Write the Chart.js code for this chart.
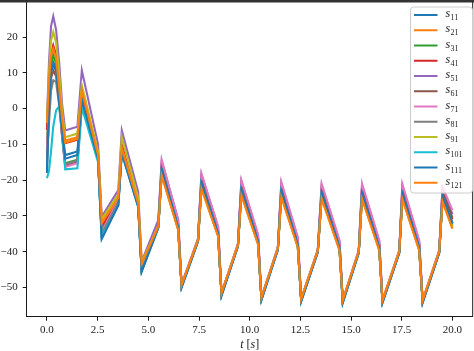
<!DOCTYPE html>
<html>
<head>
<meta charset="utf-8">
<script src="https://cdn.jsdelivr.net/npm/chart.js@4.4.1/dist/chart.umd.min.js"></script>
<style>
    html, body { margin: 0; padding: 0; background: #ffffff; }
    #wrap { width: 474px; height: 351px; }
</style>
</head>
<body>
<div id="wrap"><canvas id="lines" width="474" height="351"></canvas></div>
<script>
// time stamps shared by every series
const T = [0, 0.1, 0.2, 0.31, 0.45, 0.6, 0.75, 0.9, 1.5, 1.72, 2.52, 2.7,
    3.52, 3.69, 4.5, 4.67, 5.49, 5.66, 6.47, 6.64, 7.45, 7.62, 8.44, 8.61,
    9.42, 9.59, 10.41, 10.58, 11.39, 11.56, 12.37, 12.54, 13.36, 13.55, 14.43, 14.59,
    15.38, 15.54, 16.39, 16.55, 17.38, 17.53, 18.36, 18.53, 19.35, 19.51, 20.0];

const S11 = [-18, 1, 11, 13, 11, 3, -6, -13, -12, 3, -13.5, -35.5,
    -26.5, -11.5, -27, -45.3, -33.2, -16.8, -33, -49.8, -37, -20.5, -34.8, -52.1,
    -38.4, -22.3, -37, -53.3, -39.3, -22.8, -37.8, -53.7, -40, -23.3, -38.7, -54.1,
    -40.2, -23.3, -38.7, -54.1, -40.2, -23.4, -38.7, -54.1, -40.2, -24.2, -32];
const S21 = [-5, 7, 15, 17.2, 14.5, 7, -2, -8.9, -8, 5.5, -12.5, -31.5,
    -24.5, -11.7, -26, -43.2, -33, -18.6, -33.9, -49.4, -36.8, -22.3, -35.7, -51.7,
    -38.2, -24.1, -37.9, -52.9, -39.1, -24.6, -38.7, -53.3, -39.8, -25.1, -39.6, -53.7,
    -40, -25.1, -39.6, -53.7, -40, -25.2, -39.6, -53.7, -40, -25.8, -33.5];
const S31 = [-10, 4, 12.5, 14.9, 12.5, 4, -6, -15.3, -14.3, 3, -14, -34,
    -26, -11, -27, -44.8, -33.1, -18, -33.6, -49.5, -36.9, -21.7, -35.4, -51.8,
    -38.3, -23.5, -37.6, -53, -39.2, -24, -38.4, -53.4, -39.9, -24.5, -39.3, -53.8,
    -40.1, -24.5, -39.3, -53.8, -40.1, -24.6, -39.3, -53.8, -40.1, -25.4, -32.8];
const S41 = [-6, 7, 15, 17.7, 15, 7, -3, -9.7, -8.7, 4.5, -13, -33,
    -25.5, -10, -26.5, -44, -32.8, -16.2, -32.4, -49.6, -36.7, -19.9, -34.2, -51.9,
    -38.1, -21.7, -36.4, -53.1, -39, -22.2, -37.2, -53.5, -39.7, -22.7, -38.1, -53.9,
    -39.9, -22.7, -38.1, -53.9, -39.9, -22.8, -38.1, -53.9, -39.9, -23.6, -31];
const S51 = [-3, 13, 23, 25.8, 22, 13, 1, -6.1, -5.1, 10.7, -10, -30.3,
    -22.8, -6.1, -23.3, -42.8, -31.2, -14.6, -31, -49.1, -36.4, -18.4, -33.2, -51.7,
    -37.9, -20.3, -35.4, -52.9, -38.8, -20.9, -36.2, -53.3, -39.5, -21.5, -37.1, -53.7,
    -39.7, -21.5, -37.1, -53.7, -39.7, -21.6, -37.1, -53.7, -39.7, -22.4, -29.5];
const S61 = [-13, 0, 8.5, 10.7, 9, 2, -8, -16, -15, 2, -14, -35,
    -26, -12, -27, -45, -32.9, -15.8, -32.1, -49.5, -36.7, -19.5, -33.9, -51.8,
    -38.1, -21.3, -36.1, -53, -39, -21.8, -36.9, -53.4, -39.7, -22.3, -37.8, -53.8,
    -39.9, -22.3, -37.8, -53.8, -39.9, -22.4, -37.8, -53.8, -39.9, -23.2, -30.5];
const S71 = [-12, 2, 10, 12.1, 10.5, 3, -8, -16.3, -15.3, 2, -14, -34.5,
    -25.5, -11.5, -26, -44.5, -32.6, -14.4, -31.3, -49.3, -36.4, -18.2, -32.9, -51.6,
    -37.8, -20, -35.1, -52.8, -38.7, -20.5, -35.9, -53.2, -39.4, -21, -36.8, -53.6,
    -39.6, -21, -36.8, -53.6, -39.6, -21.1, -36.8, -53.6, -39.6, -21.9, -28.4];
const S81 = [-14, -4, 5, 7.9, 7.5, 1, -8, -15.5, -14.5, 1.5, -14, -35,
    -26.2, -12, -27, -45, -33.1, -17.6, -33.4, -49.6, -36.9, -21.3, -35.2, -51.9,
    -38.3, -23.1, -37.4, -53.1, -39.2, -23.6, -38.2, -53.5, -39.9, -24.1, -39.1, -53.9,
    -40.1, -24.1, -39.1, -53.9, -40.1, -24.2, -39.1, -53.9, -40.1, -25, -32.5];
const S91 = [-4, 10, 19, 21.4, 18.5, 10, -1, -8, -7, 6.5, -12, -31,
    -24, -8, -25, -43, -32.8, -17.9, -33.5, -49.5, -36.8, -21.9, -35.5, -51.8,
    -38.2, -23.7, -37.7, -53, -39.1, -24.2, -38.5, -53.4, -39.8, -24.7, -39.4, -53.8,
    -40, -24.7, -39.4, -53.8, -40, -24.8, -39.4, -53.8, -40, -25.6, -33];
const S101 = [-19.5, -17.5, -12, -5, -0.5, 0.6, -6, -17, -16.7, 0.3, -15, -36,
    -27, -12.5, -27.5, -45.5, -33.2, -17.3, -33.2, -49.9, -37, -21, -35, -52.2,
    -38.4, -22.8, -37.2, -53.4, -39.3, -23.3, -38, -53.8, -40, -23.8, -38.9, -54.2,
    -40.2, -23.8, -38.9, -54.2, -40.2, -23.9, -38.9, -54.2, -40.2, -24.7, -32.2];
const S111 = [-17, 0, 10, 12.5, 10.5, 2, -6, -14, -13, 2.5, -14, -36.5,
    -27, -12.5, -27.5, -45.6, -33.4, -17.1, -33.1, -50.1, -37.2, -20.8, -34.9, -52.4,
    -38.6, -22.6, -37.1, -53.6, -39.5, -23.1, -37.9, -54, -40.2, -23.6, -38.8, -54.4,
    -40.4, -23.6, -38.8, -54.4, -40.4, -23.7, -38.8, -54.4, -40.4, -24.5, -32.2];
const S121 = [-4, 8, 15, 16.8, 14, 6, -3, -9.5, -8.5, 5, -13, -32,
    -25, -11, -26.5, -43.5, -33, -18.7, -33.9, -49.4, -36.8, -22.4, -35.7, -51.7,
    -38.2, -24.2, -37.9, -52.9, -39.1, -24.7, -38.7, -53.3, -39.8, -25.2, -39.6, -53.7,
    -40, -25.2, -39.6, -53.7, -40, -25.3, -39.6, -53.7, -40, -26, -33.6];

const SERIES = [S11, S21, S31, S41, S51, S61, S71, S81, S91, S101, S111, S121];
const SUBS = ['11', '21', '31', '41', '51', '61', '71', '81', '91', '101', '111', '121'];
const COLORS = ['#1f77b4', '#ff7f0e', '#2ca02c', '#d62728', '#9467bd', '#8c564b',
    '#e377c2', '#7f7f7f', '#bcbd22', '#17becf', '#1f77b4', '#ff7f0e'];

const XTICKS = [0, 2.5, 5, 7.5, 10, 12.5, 15, 17.5, 20];
const YTICKS = [-50, -40, -30, -20, -10, 0, 10, 20];

const SERIF = '"Liberation Serif", "DejaVu Serif", serif';
const INK = '#1a1a1a';

// spines on top and right, the frame-box legend and the axis title
const framePlugin = {
    id: 'frame',
    afterDraw(chart) {
        const c = chart.ctx;
        const a = chart.chartArea;
        c.save();
        c.fillStyle = '#333333';
        c.fillRect(0, 0, 474, a.top + 0.5);
        c.strokeStyle = INK;
        c.lineWidth = 1;
        c.beginPath();
        c.moveTo(a.right, a.top);
        c.lineTo(a.right, a.bottom);
        c.stroke();

        // legend box
        const bx = 410, by = 6.5, bw = 62, bh = 186;
        c.beginPath();
        c.roundRect(bx + 0.5, by + 0.5, bw, bh, 3);
        c.fillStyle = 'rgba(255,255,255,0.8)';
        c.fill();
        c.strokeStyle = '#cccccc';
        c.stroke();
        SUBS.forEach((sub, i) => {
            const y = 15 + i * 15.25;
            c.strokeStyle = COLORS[i];
            c.lineWidth = 2;
            c.beginPath();
            c.moveTo(414, y);
            c.lineTo(437.5, y);
            c.stroke();
            c.fillStyle = INK;
            c.textBaseline = 'alphabetic';
            c.textAlign = 'left';
            c.font = 'italic 12px ' + SERIF;
            c.fillText('s', 445.5, y + 2);
            c.font = '8px ' + SERIF;
            c.fillText(sub, 450.5, y + 5);
        });

        // x axis title: t [s]
        const cx = (a.left + a.right) / 2, ty = 348;
        const parts = [['italic 12px ', 't'], ['12px ', ' ['], ['italic 12px ', 's'], ['12px ', ']']];
        let total = 0;
        parts.forEach(p => { c.font = p[0] + SERIF; total += c.measureText(p[1]).width; });
        let x = cx - total / 2;
        c.fillStyle = INK;
        parts.forEach(p => {
            c.font = p[0] + SERIF;
            c.fillText(p[1], x, ty);
            x += c.measureText(p[1]).width;
        });
        c.restore();
    }
};

function initLines() {
    const ctx = document.getElementById('lines').getContext('2d');
    new Chart(ctx, {
        type: 'line',
        data: {
            datasets: SERIES.map((vals, i) => ({
                label: 's' + SUBS[i],
                data: T.map((t, k) => ({ x: t, y: vals[k] })),
                borderColor: COLORS[i],
                backgroundColor: COLORS[i],
                borderWidth: 2.1,
                pointRadius: 0,
                tension: 0,
                fill: false,
                order: SERIES.length - 1 - i
            }))
        },
        options: {
            responsive: false,
            animation: false,
            devicePixelRatio: 1,
            layout: { padding: { top: 2, right: 1.3, left: 0, bottom: 0 } },
            plugins: {
                legend: { display: false },
                tooltip: { enabled: false }
            },
            scales: {
                x: {
                    type: 'linear',
                    min: -1,
                    max: 21,
                    afterBuildTicks: s => { s.ticks = XTICKS.map(v => ({ value: v })); },
                    afterFit: s => {
                        s.height = 34.3;
                        s.paddingLeft = 0;
                        s.paddingRight = 0;
                    },
                    ticks: {
                        maxRotation: 0,
                        padding: 3,
                        color: INK,
                        font: { family: SERIF, size: 11 },
                        callback: v => v.toFixed(1)
                    },
                    grid: { drawOnChartArea: false, tickLength: 4, color: INK },
                    border: { color: INK, width: 1 }
                },
                y: {
                    min: -58.2,
                    max: 29.8,
                    afterBuildTicks: s => { s.ticks = YTICKS.map(v => ({ value: v })); },
                    afterFit: s => {
                        s.width = 26.7;
                        s.paddingTop = 0;
                        s.paddingBottom = 0;
                    },
                    ticks: {
                        padding: 5,
                        color: INK,
                        font: { family: SERIF, size: 11 },
                        callback: v => (v < 0 ? '\u2212' + Math.abs(v) : String(v))
                    },
                    grid: { drawOnChartArea: false, tickLength: 4, color: INK },
                    border: { color: INK, width: 1 }
                }
            }
        },
        plugins: [framePlugin]
    });
}

initLines();
</script>
</body>
</html>
